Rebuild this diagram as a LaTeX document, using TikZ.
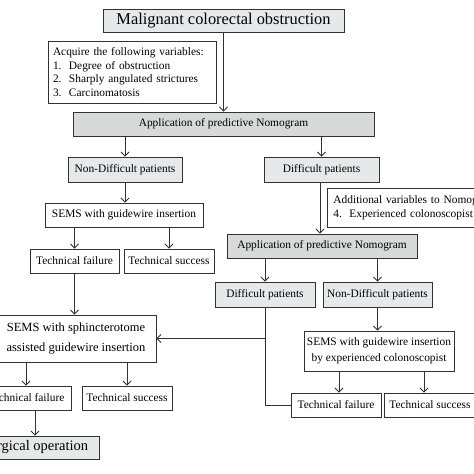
\documentclass[tikz,border=0pt]{standalone}
\usepackage{fontspec}
\setmainfont{Liberation Serif}
\usetikzlibrary{calc, arrows.meta}

\definecolor{boxgrey}{RGB}{230,233,233}
\definecolor{nomogrey}{RGB}{216,217,217}
\definecolor{edgegrey}{RGB}{50,50,50}

\tikzset{
	flowbox/.style = {draw = edgegrey, line width = 0.9pt, fill = white, inner sep = 0pt,
		align = center, font = \fontsize{11.4}{13.7}\selectfont},
	lightbox/.style = {flowbox, fill = boxgrey},
	nomobox/.style = {flowbox, fill = nomogrey},
	flowline/.style = {draw = edgegrey, line width = 0.9pt},
	flowarrow/.style = {flowline, -{Straight Barb[length=4pt, width=8pt]}}
}

\begin{document}
\begin{tikzpicture}[x=1pt, y=-1pt]
		\useasboundingbox (0,0) rectangle (474,474);
		\clip (0,0) rectangle (474,474);
		\fill [white] (0,0) rectangle (474,474);
		
		% top of the chart
		\node [lightbox, minimum width = 241pt, minimum height = 23pt, font = \fontsize{16.4}{19}\selectfont] (title) at (223.5,20.5) {Malignant colorectal obstruction};
		\node [flowbox, minimum width = 168pt, minimum height = 62pt, align = left, text width = 158pt] (variables) at (132,72)
			{Acquire the following variables:\\
			\makebox[16pt][l]{1.}Degree of obstruction\\
			\makebox[16pt][l]{2.}Sharply angulated strictures\\
			\makebox[16pt][l]{3.}Carcinomatosis};
		\node [nomobox, minimum width = 301pt, minimum height = 24pt] (nomogram one) at (223.5,124) {Application of predictive Nomogram};
		
		% left branch
		\node [lightbox, minimum width = 114pt, minimum height = 25pt] (non difficult one) at (125,169.5) {Non-Difficult patients};
		\node [flowbox, minimum width = 158pt, minimum height = 24pt] (sems guidewire) at (124,215) {SEMS with guidewire insertion};
		\node [flowbox, minimum width = 89pt, minimum height = 24pt] (failure one) at (74.5,261) {Technical failure};
		\node [flowbox, minimum width = 90pt, minimum height = 24pt] (success one) at (169,261) {Technical success};
		\node [flowbox, minimum width = 160pt, minimum height = 47pt, font = \fontsize{12.5}{15}\selectfont] (sems sphincterotome) at (76,338.5)
			{SEMS with sphincterotome\\[5pt]assisted guidewire insertion};
		\node [flowbox, minimum width = 90pt, minimum height = 24pt] (failure two) at (26,398) {Technical failure};
		\node [flowbox, minimum width = 90pt, minimum height = 24pt] (success two) at (127,398) {Technical success};
		\node [lightbox, minimum width = 128pt, minimum height = 23pt, font = \fontsize{14.5}{17}\selectfont] (surgery) at (35,447.5) {Surgical operation};
		
		% right branch
		\node [lightbox, minimum width = 115pt, minimum height = 25pt] (difficult one) at (321.5,169.5) {Difficult patients};
		\node [flowbox, minimum height = 39pt, anchor = west, align = left, text width = 190pt, inner xsep = 6pt] (more variables) at (327,207.5)
			{Additional variables to Nomogram\\
			\makebox[16pt][l]{4.}Experienced colonoscopist};
		\node [nomobox, minimum width = 190pt, minimum height = 24pt] (nomogram two) at (322,246) {Application of predictive Nomogram};
		\node [lightbox, minimum width = 100pt, minimum height = 25pt] (difficult two) at (265,294.5) {Difficult patients};
		\node [lightbox, minimum width = 109pt, minimum height = 25pt] (non difficult two) at (377.5,294.5) {Non-Difficult patients};
		\node [flowbox, minimum width = 150pt, minimum height = 40pt] (sems experienced) at (379,351)
			{SEMS with guidewire insertion\\[2pt]by experienced colonoscopist};
		\node [flowbox, minimum width = 90pt, minimum height = 24pt] (failure three) at (336,405) {Technical failure};
		\node [flowbox, minimum width = 92pt, minimum height = 24pt] (success three) at (430,405) {Technical success};
		
		\coordinate (split failure) at ($ (sems experienced.south) + (-40,0) $);
		\coordinate (split success) at ($ (sems experienced.south) + (45,0) $);
		\coordinate (back branch) at (difficult two.south |- sems sphincterotome.east);
		
		% connectors
		\draw [flowarrow] (title.south) -- (title.south |- nomogram one.north);
		\draw [flowarrow] (non difficult one.north |- nomogram one.south) -- (non difficult one.north);
		\draw [flowarrow] (difficult one.north |- nomogram one.south) -- (difficult one.north);
		\draw [flowarrow] (non difficult one.south) -- (non difficult one.south |- sems guidewire.north);
		\draw [flowarrow] (failure one.north |- sems guidewire.south) -- (failure one.north);
		\draw [flowarrow] (success one.north |- sems guidewire.south) -- (success one.north);
		\draw [flowarrow] (failure one.south) -- (failure one.south |- sems sphincterotome.north);
		\draw [flowarrow] (failure two.north |- sems sphincterotome.south) -- (failure two.north);
		\draw [flowarrow] (success two.north |- sems sphincterotome.south) -- (success two.north);
		\draw [flowarrow] (surgery.north |- failure two.south) -- (surgery.north);
		
		\draw [flowarrow] ($ (difficult one.south) + (-1.5,0) $) -- ($ (difficult one.south |- nomogram two.north) + (-1.5,0) $);
		\draw [flowarrow] (difficult two.north |- nomogram two.south) -- (difficult two.north);
		\draw [flowarrow] (non difficult two.north |- nomogram two.south) -- (non difficult two.north);
		\draw [flowarrow] (non difficult two.south) -- (non difficult two.south |- sems experienced.north);
		\draw [flowarrow] (split failure) -- (split failure |- failure three.north);
		\draw [flowarrow] (split success) -- (split success |- success three.north);
		
		\draw [flowline] (difficult two.south) |- (failure three.west);
		\draw [flowarrow] (back branch) -- (sems sphincterotome.east);
	\end{tikzpicture}
\end{document}
